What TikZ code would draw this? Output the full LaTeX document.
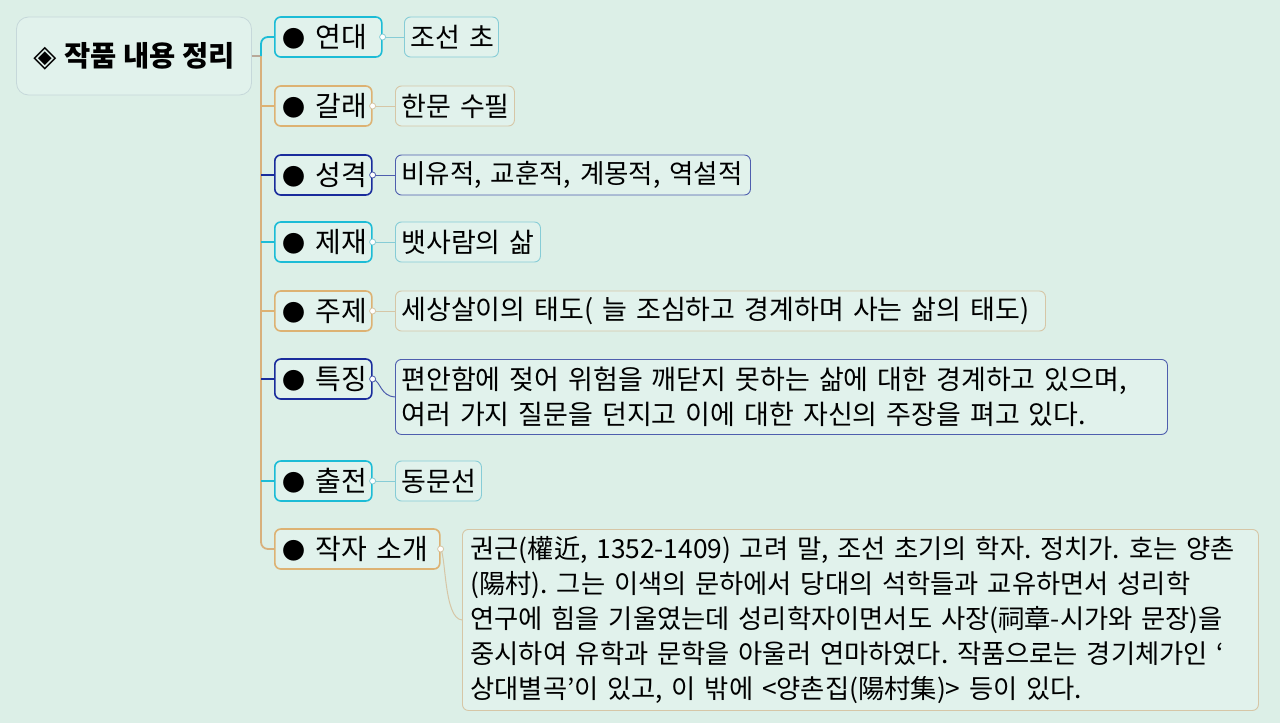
\documentclass[tikz,border=0pt]{standalone}
\usepackage{fontspec}
\setmainfont{Noto Sans CJK KR}
\newfontfamily\symfont{DejaVu Sans}
\definecolor{bg}{HTML}{DCEFE7}
\definecolor{boxfill}{HTML}{E1F2EC}
\definecolor{rootline}{HTML}{C6D8DA}
\definecolor{cyanC}{HTML}{1CBCD6}
\definecolor{cyanL}{HTML}{86CCD6}
\definecolor{tanC}{HTML}{DDB273}
\definecolor{tanL}{HTML}{D6C6A6}
\definecolor{blueC}{HTML}{1A2C9C}
\definecolor{blueL}{HTML}{4E5EAE}
\definecolor{trunkC}{HTML}{D8B07C}
\definecolor{rootconn}{HTML}{B8A898}
\newcommand{\mainfs}{\fontsize{27}{34.5}\selectfont\frenchspacing}
\newcommand{\LL}[1]{\mbox{#1}}
\tikzset{
  rootbox/.style={draw=rootline, line width=0.8pt, rounded corners=12pt, fill=boxfill,
    minimum width=235, minimum height=78, font=\fontsize{28.5}{34}\selectfont\bfseries, inner sep=0},
  catbox/.style={draw=#1, line width=1.6pt, rounded corners=6pt, fill=boxfill,
    minimum height=40, anchor=west, inner xsep=8, inner ysep=0, align=left,
    font=\fontsize{28}{34}\selectfont},
  detbox/.style={draw=#1, line width=0.9pt, rounded corners=6pt, fill=boxfill,
    minimum height=40, anchor=west, inner xsep=6, inner ysep=0, align=left, font=\mainfs},
  conn/.style={draw=#1, line width=1pt},
  branch/.style={draw=#1, line width=1.8pt},
  knob/.style={draw=#1, fill=white, line width=0.8pt, circle, inner sep=0, minimum size=6},
}
\newcommand{\cattext}[1]{\LL{{\fontsize{23}{23}\selectfont ●}\hspace{10pt}#1}}
\begin{document}
\begin{tikzpicture}[x=1pt,y=-1pt]
\fill[bg] (0,0) rectangle (1280,723);
\useasboundingbox (0,0) rectangle (1280,723);

% root
\node[rootbox] (root) at (134,56) {{\symfont\bfseries\fontsize{30}{30}\selectfont ◈}\hspace{8pt}작품 내용 정리};
\coordinate (t0) at (261,56);

% categories
\node[catbox=cyanC, text width=91] (c1) at (274,37) {\cattext{연대}};
\node[catbox=tanC, text width=81] (c2) at (274,106) {\cattext{갈래}};
\node[catbox=blueC, text width=81] (c3) at (274,175) {\cattext{성격}};
\node[catbox=cyanC, text width=81] (c4) at (274,242) {\cattext{제재}};
\node[catbox=tanC, text width=81] (c5) at (274,311) {\cattext{주제}};
\node[catbox=blueC, text width=81] (c6) at (274,379) {\cattext{특징}};
\node[catbox=cyanC, text width=81] (c7) at (274,481) {\cattext{출전}};
\node[catbox=tanC, text width=149] (c8) at (274,549) {\cattext{작자 소개}};

% details
\node[detbox=cyanL, text width=82] (d1) at (404,37) {\LL{조선 초}};
\node[detbox=tanL, text width=107] (d2) at (395,106) {\LL{한문 수필}};
\node[detbox=blueL, text width=343, font=\fontsize{26.5}{34}\selectfont] (d3) at (395,175) {\LL{비유적, 교훈적, 계몽적, 역설적}};
\node[detbox=cyanL, text width=133] (d4) at (395,242) {\LL{뱃사람의 삶}};
\node[detbox=tanL, text width=638] (d5) at (395,311) {\LL{세상살이의 태도( 늘 조심하고 경계하며 사는 삶의 태도)}};
\node[detbox=blueL, text width=760, minimum height=75, anchor=north west] (d6) at (395,359)
  {\LL{편안함에 젖어 위험을 깨닫지 못하는 삶에 대한 경계하고 있으며,}\\\LL{여러 가지 질문을 던지고 이에 대한 자신의 주장을 펴고 있다.}};
\node[detbox=cyanL, text width=74] (d7) at (395,481) {\LL{동문선}};
\node[detbox=tanL, text width=780, inner xsep=8, minimum height=181, anchor=north west,
      font=\fontsize{26.3}{35}\selectfont\frenchspacing] (d8) at (462,529)
  {\LL{권근(權近, 1352-1409) 고려 말, 조선 초기의 학자. 정치가. 호는 양촌}\\
   \LL{(陽村). 그는 이색의 문하에서 당대의 석학들과 교유하면서 성리학}\\
   \LL{연구에 힘을 기울였는데 성리학자이면서도 사장(祠章-시가와 문장)을}\\
   \LL{중시하여 유학과 문학을 아울러 연마하였다. 작품으로는 경기체가인 ‘}\\
   \LL{상대별곡’이 있고, 이 밖에 <양촌집(陽村集)> 등이 있다.}};

% trunk and branches
\draw[branch=rootconn] (root.east) -- (t0);
\draw[branch=trunkC, rounded corners=7pt] (t0) |- (c8.west);
\draw[branch=cyanC, rounded corners=7pt] (t0) |- (c1.west);
\draw[branch=tanC] (261,106) -- (c2.west);
\draw[branch=blueC] (261,175) -- (c3.west);
\draw[branch=cyanC] (261,242) -- (c4.west);
\draw[branch=tanC] (261,311) -- (c5.west);
\draw[branch=blueC] (261,379) -- (c6.west);
\draw[branch=cyanC] (261,481) -- (c7.west);

% connectors
\draw[conn=cyanL] (c1.east) -- (d1.west);
\draw[conn=tanL] (c2.east) -- (d2.west);
\draw[conn=blueL] (c3.east) -- (d3.west);
\draw[conn=cyanL] (c4.east) -- (d4.west);
\draw[conn=tanL] (c5.east) -- (d5.west);
\draw[conn=blueL] (c6.east) .. controls (381,381) and (380,396) .. (d6.west);
\draw[conn=cyanL] (c7.east) -- (d7.west);
\draw[conn=tanL] (c8.east) .. controls (446,556) and (444,619) .. (d8.west);

% knobs
\node[knob=cyanL] (k1) at (c1.east) {};
\node[knob=tanL] (k2) at (c2.east) {};
\node[knob=blueL] (k3) at (c3.east) {};
\node[knob=cyanL] (k4) at (c4.east) {};
\node[knob=tanL] (k5) at (c5.east) {};
\node[knob=blueL] (k6) at (c6.east) {};
\node[knob=cyanL] (k7) at (c7.east) {};
\node[knob=tanL] (k8) at (c8.east) {};
\end{tikzpicture}
\end{document}
